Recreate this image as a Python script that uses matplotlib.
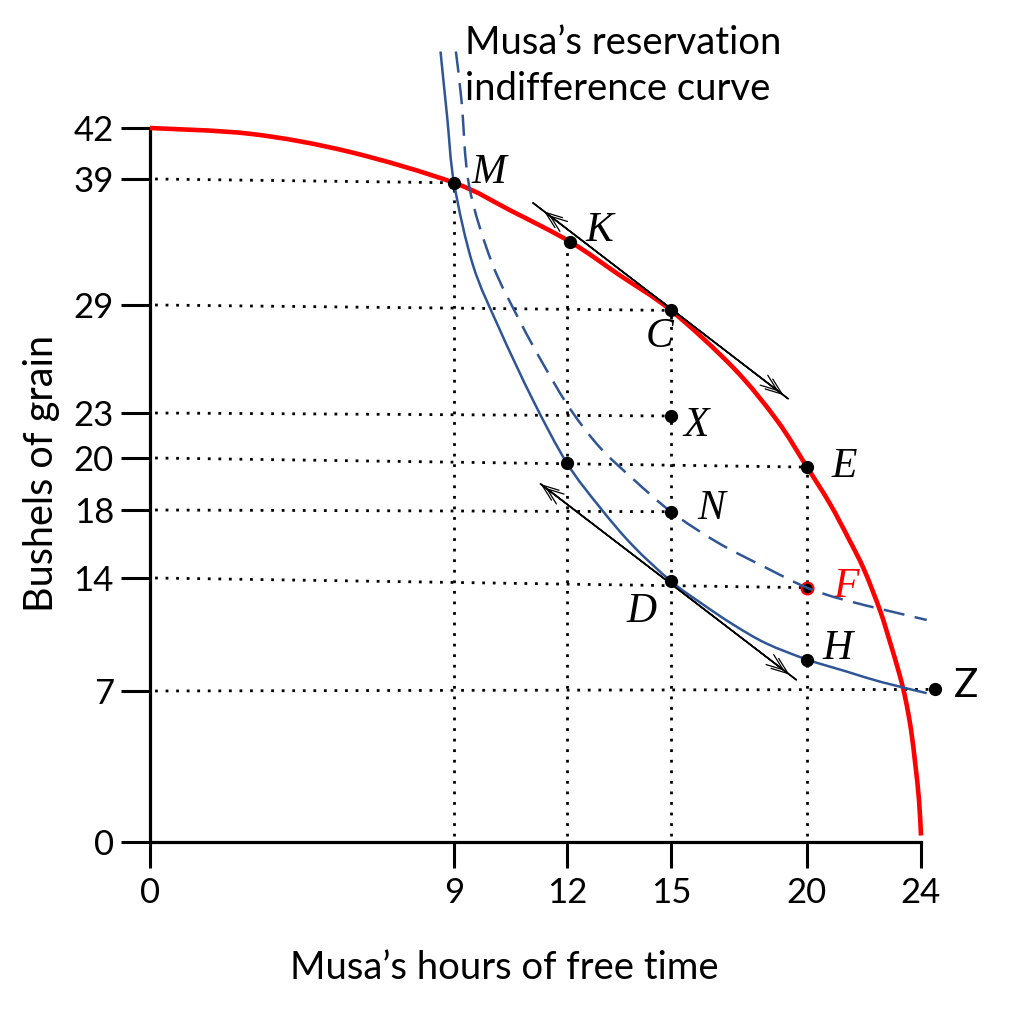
import numpy as np
import matplotlib
matplotlib.use('Agg')
import matplotlib.pyplot as plt
from matplotlib.path import Path
from matplotlib.patches import PathPatch

# --- donnees (heures de temps libre, boisseaux de grain) ---
xticks = [0, 9, 12, 15, 20, 24]
yticks = [0, 7, 14, 18, 20, 23, 29, 39, 42]

# frontiere des possibilites de production (rouge)
ppf_x = [0, 3.0, 5.9, 9, 10.5, 12.1, 13.5, 15, 17.3, 18.9, 20, 20.8, 21.45, 22.0, 22.56, 22.9,
         23.25, 23.46, 23.65, 23.8, 23.93, 24]
ppf_y = [42, 41.65, 40.6, 38.7, 36.5, 34.0, 31.4, 28.7, 25.5, 22.5, 19.65, 18.25, 16.35, 14.5, 12.0,
         10.1, 8.0, 6.6, 5.2, 3.6, 1.95, 0.3]

# courbe d'indifference passant par M et D (bleu plein)
ic_x = [8.6, 8.8, 9, 9.5, 10.2, 11.1, 12, 12.95, 13.9, 15, 16.1, 17.3, 18.5, 20, 21.4, 22.6, 24.2]
ic_y = [46.5, 42.6, 38.7, 32.2, 27.7, 23.7, 19.8, 18.1, 15.9, 13.8, 12.45, 11.1, 9.95, 8.95, 8.2,
        7.56, 6.9]

# courbe d'indifference de reservation (bleu tirets)
res_x = [9.05, 9.2, 9.4, 10.0, 10.75, 11.4, 12.1, 12.95, 13.9, 15, 16.7, 18.5, 20, 21.4, 24.2]
res_y = [46.5, 43.6, 38.5, 32.4, 28.1, 25.6, 23.2, 20.7, 19.2, 17.9, 16.1, 14.6, 13.4, 12.6, 11.4]

# points nommes
pts_names = ['M', 'K', 'C', 'X', 'E', 'N', 'D', 'H', '']
pts_x = [9, 12.1, 15, 15, 20, 15, 15, 20, 12]
pts_y = [38.7, 34.0, 28.7, 22.8, 19.65, 17.9, 13.8, 8.9, 19.8]
F_pt = (20, 13.4)
Z_pt = (24.5, 7.1)

# lignes pointillees : (graduation, point d'arrivee)
h_guides_y0 = [39, 29, 23, 20, 18, 14, 7]
h_guides_end = [(9, 38.7), (15, 28.7), (15, 22.8), (20, 19.65), (15, 17.9), (20, 13.4), (24.5, 7.1)]
v_guides_x0 = [9, 12, 15, 20]
v_guides_end = [(9, 38.7), (12, 34.0), (15, 28.7), (20, 19.65)]

# tangentes
tan1 = [(11.1, 37.1), (19.3, 23.8)]
tan2 = [(11.3, 19.0), (19.6, 7.7)]

# echelle non lineaire du dessin original (position relative des graduations)
xpos = [0, 304, 417, 521, 657, 771]
ypos = [0, 151, 264, 332, 384, 429, 537, 663, 714]


def mapper(a, b):
    a = np.asarray(a, float)
    b = np.asarray(b, float)

    def f(v):
        v = np.asarray(v, float)
        out = np.interp(v, a, b)
        out = np.where(v < a[0], b[0] + (v - a[0]) * (b[1] - b[0]) / (a[1] - a[0]), out)
        out = np.where(v > a[-1], b[-1] + (v - a[-1]) * (b[-1] - b[-2]) / (a[-1] - a[-2]), out)
        return out
    return f


fx, ix = mapper(xticks, xpos), mapper(xpos, xticks)
fy, iy = mapper(yticks, ypos), mapper(ypos, yticks)


def smooth_path(xs, ys):
    # courbe de Bezier (Catmull-Rom) dans l'espace de l'echelle, ramenee en donnees
    P = np.column_stack([fx(xs), fy(ys)])
    verts = [P[0]]
    codes = [Path.MOVETO]
    n = len(P)
    for i in range(n - 1):
        p0 = P[i - 1] if i > 0 else P[i]
        p1, p2 = P[i], P[i + 1]
        p3 = P[i + 2] if i + 2 < n else P[i + 1]
        verts += [p1 + (p2 - p0) / 6, p2 - (p3 - p1) / 6, p2]
        codes += [Path.CURVE4] * 3
    verts = np.array(verts)
    return Path(np.column_stack([ix(verts[:, 0]), iy(verts[:, 1])]), codes)


blue = '#2F5597'
lato = 'Lato'
serif = 'Liberation Serif'

fig = plt.figure(figsize=(10.29, 10.17), dpi=100)
ax = fig.add_axes([150 / 1029, 175 / 1017, 771 / 1029, 714 / 1017])
ax.set_xscale('function', functions=(fx, ix))
ax.set_yscale('function', functions=(fy, iy))
ax.set_xlim(0, 24)
ax.set_ylim(0, 42)

# pointilles
for y0, (x1, y1) in zip(h_guides_y0, h_guides_end):
    ax.plot([0.15, x1], [y0, y1], color='k', lw=2, ls=(0, (1, 2.8)), clip_on=False)
for x0, (x1, y1) in zip(v_guides_x0, v_guides_end):
    ax.plot([x0, x1], [0.3, y1], color='k', lw=2, ls=(0, (1, 2.8)), clip_on=False)

# courbes
ax.add_patch(PathPatch(smooth_path(ppf_x, ppf_y), fill=False, ec='red', lw=3.3, clip_on=False, zorder=3))
ax.add_patch(PathPatch(smooth_path(ic_x, ic_y), fill=False, ec=blue, lw=1.8, clip_on=False, zorder=4))
ax.plot([F_pt[0]], [F_pt[1]], 'o', ms=8.5, mfc='k', mec='red', mew=1.6, zorder=4)
ax.add_patch(PathPatch(smooth_path(res_x, res_y), fill=False, ec=blue, lw=1.8, ls=(0, (8.5, 4.2)),
                       clip_on=False, zorder=5))


def tangent(seg, shrink_a, shrink_b):
    (x0, y0), (x1, y1) = seg
    ax.plot([x0, x1], [y0, y1], color='k', lw=1.2, zorder=6)
    for s, (p, q) in zip([shrink_a, shrink_b], [((x0, y0), (x1, y1)), ((x1, y1), (x0, y0))]):
        for d in (0, 4.5):
            ax.annotate('', xy=p, xytext=q, annotation_clip=False,
                        arrowprops=dict(arrowstyle='->,head_length=1.2,head_width=0.45',
                                        color='k', lw=0.9, shrinkA=0, shrinkB=s + d),
                        zorder=6)


tangent(tan1, 10, 4)
tangent(tan2, 0, 6)

# points
ax.plot(pts_x, pts_y, 'o', color='k', ms=8.5, zorder=7)
ax.plot([Z_pt[0]], [Z_pt[1]], 'o', color='k', ms=8.5, clip_on=False, zorder=7)

offsets = {'M': (25, 7), 'K': (21, 8), 'C': (-8, -19), 'X': (18, -7), 'E': (27, 0),
           'N': (29, 2), 'D': (-21, -22), 'H': (22, 8)}
for name, x, y in zip(pts_names, pts_x, pts_y):
    if name:
        ax.annotate(name, (x, y), xytext=offsets[name], textcoords='offset points',
                    ha='center', va='center', fontsize=30, style='italic', family=serif)
ax.annotate('F', F_pt, xytext=(28, 1), textcoords='offset points', ha='center', va='center',
            fontsize=30, style='italic', family=serif, color='red')
ax.annotate('Z', Z_pt, xytext=(22, 3), textcoords='offset points', ha='center', va='center',
            fontsize=29, family=lato, annotation_clip=False)

# axes
for side in ['top', 'right']:
    ax.spines[side].set_visible(False)
for side in ['left', 'bottom']:
    ax.spines[side].set_linewidth(2.3)
ax.set_xticks(xticks)
ax.set_yticks(yticks)
ax.set_xticklabels([str(v) for v in xticks], family=lato, fontsize=25)
ax.set_yticklabels([str(v) for v in yticks], family=lato, fontsize=25)
ax.minorticks_off()
ax.tick_params(axis='x', length=19, width=2.2, pad=6)
ax.tick_params(axis='y', length=21, width=2.2, pad=5)

ax.set_xlabel('Musa’s hours of free time', family=lato, fontsize=27.5)
ax.xaxis.set_label_coords((504 - 150) / 771, (842 - 968) / 714)
ax.xaxis.label.set_va('center')
ax.set_ylabel('Bushels of grain', family=lato, fontsize=28.5)
ax.yaxis.set_label_coords((42 - 150) / 771, (842 - 473) / 714)
ax.yaxis.label.set_va('center')

fig.text(465 / 1029, 1 - 66 / 1017, 'Musa’s reservation\nindifference curve', family=lato,
         fontsize=27.5, ha='left', va='center', linespacing=1.35)

fig.savefig('out.png', dpi=100)
